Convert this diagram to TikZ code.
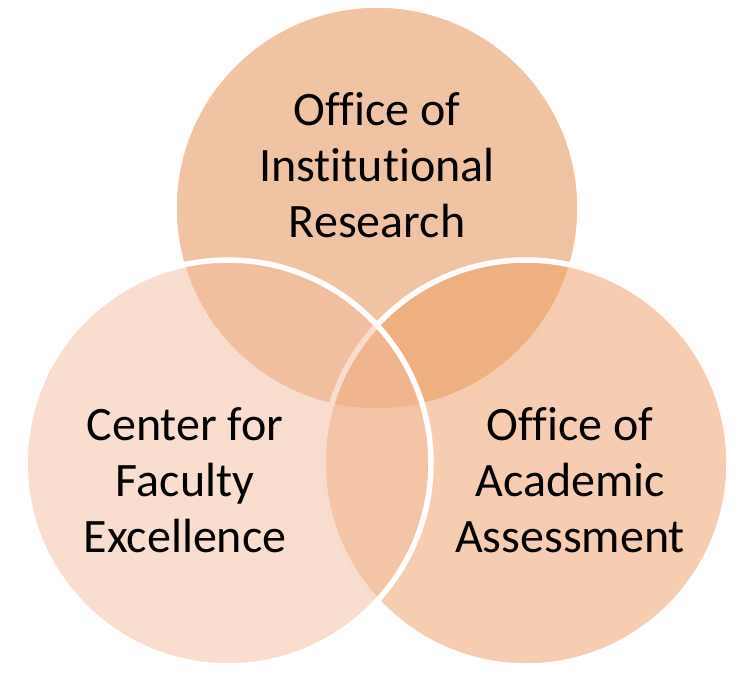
\documentclass[tikz,border=0pt]{standalone}
\usepackage{fontspec}
\setmainfont{Carlito}[Ligatures=NoCommon]
\usepackage{tikz}
\usetikzlibrary{calc}
\usetikzlibrary{positioning}

\definecolor{irfill}{RGB}{225,137,69}
\definecolor{oaafill}{RGB}{237,155,97}
\definecolor{cfefill}{RGB}{243,187,159}

\begin{document}
\begin{tikzpicture}[x=1pt, y=-1pt,
		circ/.style={draw=white, line width=5.5pt, fill opacity=0.5},
		lbl/.style={align=center, text=black, font=\fontsize{48}{56}\selectfont}]
			\useasboundingbox (0,0) rectangle (754,672); % marco
			\coordinate (irc) at (377,208); % centro superior
			\coordinate (cfec) at (228,463); % centro izquierdo
			\coordinate (oaac) at (526,463); % centro derecho
			\draw [circ, fill=irfill] (irc) circle (203); % circulo superior
			\draw [circ, fill=oaafill] (oaac) circle (203); % circulo derecho
			\draw [circ, fill=cfefill] (cfec) circle (203); % circulo izquierdo
			\node [lbl] (ir) at ($(irc)+(0,-43)$) {Office of\\Institutional\\Research};
			\node [lbl] (cfe) at ($(cfec)+(-43,17)$) {Center for\\Faculty\\Excellence};
			\node [lbl] (oaa) at ($(oaac)+(44,17)$) {Office of\\Academic\\Assessment};
		\end{tikzpicture}
\end{document}
